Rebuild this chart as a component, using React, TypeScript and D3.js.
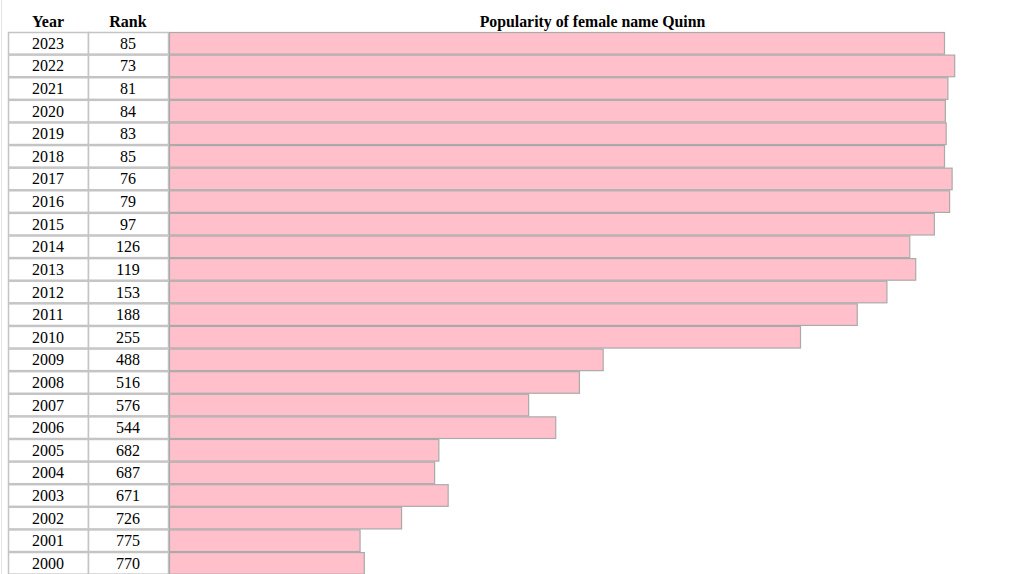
import React from 'react';
import * as d3 from 'd3';

const years = [2023, 2022, 2021, 2020, 2019, 2018, 2017, 2016, 2015, 2014, 2013, 2012,
  2011, 2010, 2009, 2008, 2007, 2006, 2005, 2004, 2003, 2002, 2001, 2000];
const ranks = [85, 73, 81, 84, 83, 85, 76, 79, 97, 126, 119, 153,
  188, 255, 488, 516, 576, 544, 682, 687, 671, 726, 775, 770];
const headers = ['Year', 'Rank', 'Popularity of female name Quinn'];

const W = 1024;
const H = 574;
const font = '"Liberation Serif", "Times New Roman", serif';

export default function App() {
  // rows of the table
  const y = d3.scaleBand<number>()
    .domain(years)
    .range([32, 32 + years.length * 22.61])
    .padding(0);

  // bar length: rank 1000 -> nothing, rank 0 -> full cell
  const x = d3.scaleLinear().domain([1000, 0]).range([0, 847]);

  const cols = [8, 88, 169];
  const colW = [80, 80, 847];
  const bh = y.bandwidth();

  return (
    <svg width={W} height={H} style={{ position: 'absolute', left: 0, top: 0 }}>
      <rect x={0} y={0} width={W} height={H} fill="#fff" />
      <line x1={1.5} x2={1.5} y1={0} y2={H} stroke="#e4e4e4" />
      {headers.map((h, i) => (
        <text key={h} x={cols[i] + colW[i] / 2} y={27} textAnchor="middle"
          fontFamily={font} fontWeight="bold" fontSize={i === 2 ? 15.8 : 16} fill="#000">{h}</text>
      ))}
      {years.map((yr, i) => {
        const top = y(yr)!;
        return (
          <g key={yr}>
            <rect x={cols[0] + 0.5} y={top + 0.5} width={colW[0]} height={bh - 1}
              fill="#fff" stroke="#c4c4c4" strokeWidth={1.5} />
            <rect x={cols[1] + 0.5} y={top + 0.5} width={colW[1]} height={bh - 1}
              fill="#fff" stroke="#c4c4c4" strokeWidth={1.5} />
            <text x={cols[0] + colW[0] / 2} y={top + bh / 2 + 5.5} textAnchor="middle"
              fontFamily={font} fontSize={16} fill="#000">{yr}</text>
            <text x={cols[1] + colW[1] / 2} y={top + bh / 2 + 5.5} textAnchor="middle"
              fontFamily={font} fontSize={16} fill="#000">{ranks[i]}</text>
            <rect x={cols[2] + 0.5} y={top + 0.5} width={x(ranks[i])} height={bh - 1}
              fill="pink" stroke="#aaaaaa" strokeWidth={1.2} />
          </g>
        );
      })}
    </svg>
  );
}
